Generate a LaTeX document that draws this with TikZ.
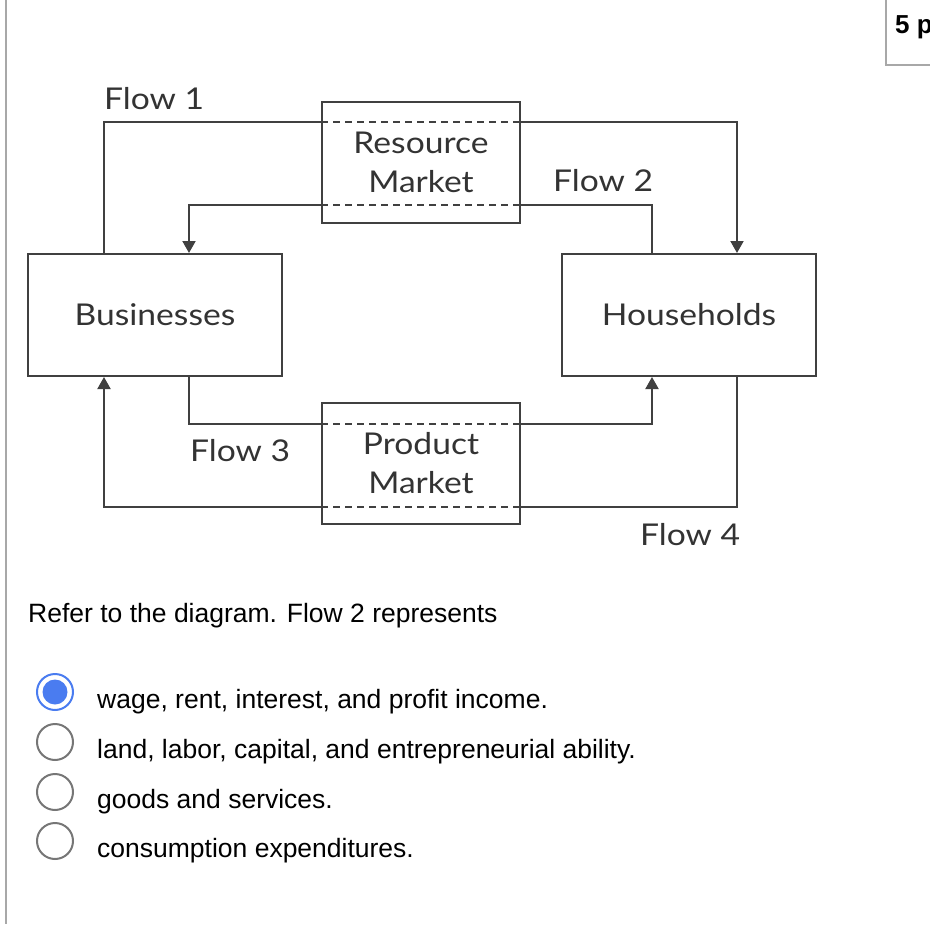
\documentclass[tikz,border=0pt]{standalone}
\usepackage{fontspec}
\setmainfont{Liberation Sans}
\newfontfamily\diagfont[FakeStretch=1.12]{Lato}
\usetikzlibrary{arrows.meta,calc}
\definecolor{ink}{HTML}{333333}
\definecolor{lineg}{HTML}{404040}
\definecolor{frameg}{HTML}{A8A8A8}
\definecolor{radiob}{HTML}{4A7CF0}
\definecolor{radiog}{HTML}{767676}
\tikzset{
  agent/.style={draw=lineg,line width=2pt,minimum width=254pt,minimum height=122pt,inner sep=0pt,
    font=\diagfont\fontsize{30}{34}\selectfont,text=ink},
  market/.style={draw=lineg,line width=2pt,minimum width=198pt,minimum height=121pt,inner sep=0pt,
    align=center,font=\diagfont\fontsize{30}{39}\selectfont,text=ink},
  flowline/.style={draw=lineg,line width=2pt},
  flowarrow/.style={flowline,-{Triangle[width=13pt,length=12pt]}},
  dashline/.style={draw=lineg,line width=2pt,dash pattern=on 7pt off 5pt},
  flowlabel/.style={font=\diagfont\fontsize{30}{34}\selectfont,text=ink,inner sep=0pt,anchor=west},
  qtext/.style={font=\fontsize{26.5}{30}\selectfont,text=black,inner sep=0pt,anchor=west},
  radio/.style={circle,draw=radiog,line width=2pt,minimum size=36pt,inner sep=0pt},
  radioon/.style={circle,draw=radiob,line width=2pt,minimum size=36pt,inner sep=0pt},
}
\begin{document}
\begin{tikzpicture}[x=1pt,y=-1pt]
\useasboundingbox (0,0) rectangle (930,926);
% page frame
\draw[frameg,line width=2pt] (6,-5) -- (6,924);
\draw[frameg,line width=2pt] (940,65) -- (886,65) -- (886,-5);
\node[anchor=west,inner sep=0pt,font=\bfseries\fontsize{26}{30}\selectfont] (pts) at (895,27) {5 p};
% nodes
\node[agent] (bus) at (155,315) {Businesses};
\node[agent] (hh) at (689,315) {Households};
\node[market] (rm) at (421,162.5) {Resource\\Market};
\node[market] (pm) at (421,463.5) {Product\\Market};
% helper coordinates
\coordinate (xa) at (104,0);
\coordinate (xb) at (189,0);
\coordinate (xc) at (652,0);
\coordinate (xd) at (737,0);
\coordinate (ya) at (0,122);
\coordinate (yb) at (0,205);
\coordinate (yc) at (0,424);
\coordinate (yd) at (0,507);
% dashed lines in markets
\draw[dashline] (rm.west |- ya) -- (rm.east |- ya);
\draw[dashline] (rm.west |- yb) -- (rm.east |- yb);
\draw[dashline] (pm.west |- yc) -- (pm.east |- yc);
\draw[dashline] (pm.west |- yd) -- (pm.east |- yd);
% Flow 1
\draw[flowline] (bus.north -| xa) |- (rm.west |- ya);
\draw[flowarrow] (rm.east |- ya) -| (hh.north -| xd);
% Flow 2
\draw[flowline] (hh.north -| xc) |- (rm.east |- yb);
\draw[flowarrow] (rm.west |- yb) -| (bus.north -| xb);
% Flow 3
\draw[flowline] (bus.south -| xb) |- (pm.west |- yc);
\draw[flowarrow] (pm.east |- yc) -| (hh.south -| xc);
% Flow 4
\draw[flowline] (hh.south -| xd) |- (pm.east |- yd);
\draw[flowarrow] (pm.west |- yd) -| (bus.south -| xa);
% flow labels
\node[flowlabel] (f1) at (104,99) {Flow 1};
\node[flowlabel] (f2) at (553,181) {Flow 2};
\node[flowlabel] (f3) at (190,451) {Flow 3};
\node[flowlabel] (f4) at (640,535) {Flow 4};
% question
\node[qtext] (q) at (28,616) {Refer to the diagram. Flow 2 represents};
\node[radioon] (r1) at (55,692) {};
\fill[radiob] (r1.center) circle (12.5);
\node[radio] (r2) at (55,742) {};
\node[radio] (r3) at (55,792) {};
\node[radio] (r4) at (55,841) {};
\node[qtext] (o1) at (97,702) {wage, rent, interest, and profit income.};
\node[qtext] (o2) at (97,752) {land, labor, capital, and entrepreneurial ability.};
\node[qtext] (o3) at (97,802) {goods and services.};
\node[qtext] (o4) at (97,851) {consumption expenditures.};
\end{tikzpicture}
\end{document}
